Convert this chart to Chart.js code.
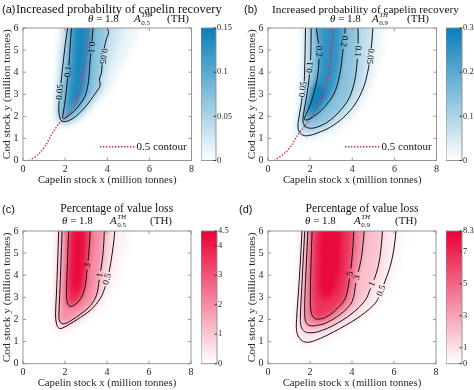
<!DOCTYPE html>
<html><head><meta charset="utf-8">
<script src="https://cdn.jsdelivr.net/npm/chart.js@4.4.1/dist/chart.umd.min.js"></script>
<style>
html,body{margin:0;padding:0;background:#fff;}
#wrap{position:relative;width:474px;height:390px;overflow:hidden;background:#fff;}
#wrap canvas{position:absolute;}
</style></head><body><div id="wrap"></div>
<script>
// ================= DATA =================
const xTickVals = [0, 2, 4, 6, 8];
const yTickVals = [0, 1, 2, 3, 4, 5, 6];

// ---- (a) increased probability of capelin recovery, A_0.5 ----
const maxA = 0.15;
const cbTicksA = [0, 0.05, 0.1, 0.15];
const aC005 = [[2.12,6.0],[2.0,5.2],[1.88,4.2],[1.8,3.5,'0.05'],[1.72,2.7],[1.7,2.25],[1.76,1.92],[1.88,1.77],[2.16,1.8],[2.48,1.98],[2.87,2.33],[3.19,2.71],[3.47,3.09],[3.66,3.39],[3.63,3.69],[3.72,3.95],[3.76,4.35,'0.05',1],[3.86,5.1],[3.96,5.5],[4.06,5.8],[4.0,6.0]];
const aC01 = [[2.3,6.0],[2.24,5.2],[2.18,4.3,'0.1'],[2.12,3.75],[2.05,3.1],[1.97,2.5],[1.9,2.1],[1.88,1.93],[1.97,1.9],[2.1,1.98],[2.4,2.22],[2.72,2.56],[2.95,2.93],[3.08,3.39],[3.14,3.91],[3.19,4.6],[3.22,4.85,'0.1',1],[3.27,5.4],[3.31,5.8],[3.33,6.0]];
const aGlow1 = [[1.7,6.5],[1.62,4.5],[1.52,3.0],[1.45,2.2],[1.52,1.7],[1.78,1.5],[2.2,1.55],[2.8,1.85],[3.5,2.5],[4.2,3.3],[4.7,4.2],[5.1,5.0],[5.45,5.8],[5.6,6.5]];
const aGlow2 = [[1.9,6.5],[1.75,4.5],[1.62,3.0],[1.58,2.3],[1.64,1.8],[1.85,1.65],[2.2,1.68],[2.7,1.95],[3.2,2.45],[3.7,3.1],[4.0,3.8],[4.3,4.6],[4.6,5.5],[4.8,6.5]];
const aCore = [[2.45,6.5],[2.42,5.0],[2.35,3.6],[2.25,2.8],[2.3,2.5],[2.55,2.7],[2.8,3.3],[2.95,4.2],[3.05,5.2],[3.1,6.5]];
const aFillShapes = [aCore, aC01, aC005, aGlow2, aGlow1];
const aFillLevels = [0.14, 0.115, 0.07, 0.03, 0.012];
const aHalf = [[0.31,0],[0.74,0.29],[1.06,0.67],[1.37,1.2],[1.69,1.65],[1.93,1.88],[2.24,2.22],[2.48,2.56],[2.69,3.16],[2.87,4.06],[3.0,4.82],[3.11,6.0]];

// ---- (b) increased probability of capelin recovery, A_0.9 ----
const maxB = 0.3;
const cbTicksB = [0, 0.1, 0.2, 0.3];
const bC005 = [[1.78,6.0],[1.76,4.9],[1.74,4.1],[1.72,3.6,'0.05'],[1.62,2.85],[1.55,2.41],[1.46,1.9],[1.42,1.55],[1.5,1.27],[1.72,1.13],[2.0,1.14],[2.33,1.24],[2.96,1.51],[3.59,1.96],[4.14,2.56],[4.54,3.32],[4.72,3.95],[4.8,4.35,'0.05',1],[4.9,5.1],[4.95,5.6],[4.98,6.0]];
const bC01 = [[2.05,6.0],[2.04,5.1],[2.02,4.55,'0.1'],[1.97,3.9],[1.9,3.32],[1.78,2.6],[1.68,2.05],[1.67,1.72],[1.8,1.52],[2.05,1.46],[2.35,1.52],[2.81,1.73],[3.36,2.19],[3.83,2.79],[4.1,3.54],[4.2,4.15],[4.24,4.6,'0.1',1],[4.28,5.3],[4.27,6.0]];
const bC02 = [[2.3,6.0],[2.35,5.6],[2.4,5.3,'0.2'],[2.42,4.6],[2.38,4.0],[2.25,3.32],[2.02,2.56],[1.8,2.08],[1.74,1.86],[1.9,1.85],[2.33,2.11],[2.81,2.56],[3.2,3.17],[3.44,4.07],[3.52,4.7],[3.57,5.05,'0.2',1],[3.65,5.75],[3.67,6.0]];
const bGlow1 = [[1.55,6.5],[1.5,4.5],[1.4,3.0],[1.28,2.0],[1.25,1.4],[1.38,1.0],[1.8,0.9],[2.5,1.02],[3.3,1.35],[4.1,1.95],[4.7,2.8],[5.1,3.8],[5.4,4.8],[5.55,5.8],[5.65,6.5]];
const bCore = [[2.52,6.5],[2.55,5.3],[2.52,4.4],[2.35,3.5],[2.1,2.7],[1.92,2.2],[2.05,2.1],[2.45,2.45],[2.85,3.0],[3.15,3.7],[3.3,4.6],[3.38,6.5]];
const bCoreLow = [[2.15,3.4],[2.0,2.8],[1.9,2.25],[2.1,2.2],[2.45,2.55],[2.7,3.0],[2.6,3.4],[2.3,3.5]];
const bFillShapes = [bCoreLow, bCore, bC02, bC01, bC005, bGlow1];
const bFillLevels = [0.29, 0.255, 0.22, 0.14, 0.075, 0.02];
const bHalf = [[0.3,0],[0.82,0.35],[1.14,0.72],[1.37,1.1],[1.61,1.4],[1.92,1.78],[2.24,2.23],[2.56,2.84],[2.79,3.59],[2.95,4.34],[3.03,5.25],[3.11,6.0]];

// ---- (c) percentage of value loss, A_0.5 ----
const maxC = 4.5;
const cbTicksC = [0, 1, 2, 3, 4, 4.5];
const cC05 = [[1.7,6.0],[1.65,4.6],[1.59,3.1],[1.55,2.2],[1.6,1.78],[1.72,1.6],[1.9,1.62],[2.2,1.78],[2.57,1.99],[3.21,2.42],[3.68,2.95],[3.92,3.5,'0.5'],[4.1,4.15],[4.25,5.0],[4.33,5.6],[4.37,6.0]];
const cC1 = [[1.86,6.0],[1.81,4.6],[1.75,3.1],[1.71,2.2],[1.75,1.92],[1.9,1.8],[2.2,1.9],[2.75,2.25],[3.2,2.62],[3.5,3.1],[3.63,3.8,'1'],[3.7,4.2],[3.8,4.9],[3.85,5.5],[3.87,6.0]];
const cC3 = [[2.17,6.0],[2.12,4.6],[2.07,3.25],[2.1,2.8],[2.22,2.6],[2.45,2.65],[2.75,2.95],[2.95,3.45],[3.05,4.25,'3'],[3.1,4.65],[3.16,5.35],[3.2,6.0]];
const cGlow1 = [[1.5,6.5],[1.45,4.5],[1.4,3.0],[1.38,2.0],[1.5,1.45],[1.75,1.35],[2.3,1.5],[3.0,1.95],[3.7,2.55],[4.3,3.35],[4.7,4.3],[5.0,5.3],[5.15,6.5]];
const cCore = [[2.35,6.5],[2.32,4.8],[2.3,3.6],[2.5,3.1],[2.75,3.5],[2.88,4.4],[2.95,6.5]];
const cFillShapes = [cCore, cC3, cC1, cC05, cGlow1];
const cFillLevels = [4.35, 3.7, 2.0, 0.75, 0.2];

// ---- (d) percentage of value loss, A_0.9 ----
const maxD = 8.3;
const cbTicksD = [0, 1, 3, 5, 7, 8.3];
const dC05 = [[1.62,6.0],[1.54,4.6],[1.44,3.1],[1.36,2.0],[1.36,1.5],[1.48,1.18],[1.7,1.0],[2.0,0.98],[2.5,1.15],[3.13,1.44],[4.24,2.05],[5.03,2.65],[5.27,3.0,'0.5'],[5.52,3.6],[5.79,4.3],[5.98,5.1],[6.1,6.0]];
const dC1 = [[1.75,6.0],[1.67,4.6],[1.59,3.1],[1.54,2.05],[1.58,1.68],[1.74,1.46],[2.0,1.4],[2.4,1.45],[3.13,1.74],[4.0,2.27],[4.63,2.87],[4.88,3.4,'1'],[5.05,3.8],[5.25,4.4],[5.38,5.2],[5.45,6.0]];
const dC3 = [[1.9,6.0],[1.83,4.6],[1.76,3.1],[1.75,2.2],[1.82,1.85],[2.0,1.72],[2.3,1.73],[2.73,1.83],[3.44,2.23],[4.0,2.8],[4.18,3.65,'3'],[4.3,4.15],[4.43,4.7],[4.52,5.35],[4.58,6.0]];
const dC5 = [[2.1,6.0],[2.05,4.6],[2.02,3.1],[2.05,2.35],[2.2,2.06],[2.45,2.02],[2.75,2.1],[3.21,2.42],[3.68,2.95],[3.88,3.85,'5'],[3.95,4.3],[4.02,5.0],[4.06,5.5],[4.08,6.0]];
const dGlow1 = [[1.42,6.5],[1.36,4.5],[1.27,3.0],[1.2,1.8],[1.26,1.2],[1.5,0.85],[2.0,0.78],[3.0,1.12],[4.2,1.78],[5.2,2.5],[5.85,3.4],[6.25,4.5],[6.45,5.5],[6.55,6.5]];
const dCore = [[2.45,6.5],[2.4,4.6],[2.45,3.2],[2.75,2.9],[3.2,3.3],[3.45,4.2],[3.55,6.5]];
const dFillShapes = [dCore, dC5, dC3, dC1, dC05, dGlow1];
const dFillLevels = [8.0, 6.6, 4.0, 2.0, 0.75, 0.3];

// ================= STYLE / LAYOUT =================
const SERIF = '"Liberation Serif","Times New Roman",serif';
const SANS = '"Liberation Sans",Arial,sans-serif';
const BLUE = [8,126,184], RED = [232,0,52];
const HALFCOL = '#e3264e';
const FRAME = '#8c8c8c';
const TXT = '#262626';

const mctx = document.createElement('canvas').getContext('2d');
function fitSize(text, family, target){ mctx.font = '20px ' + family; return 20 * target / mctx.measureText(text).width; }
const xTitle = 'Capelin stock x (million tonnes)';
const yTitle = 'Cod stock y (million tonnes)';
const xtSize = fitSize(xTitle, SERIF, 139);
const ytSize = fitSize(yTitle, SERIF, 130);

function shade(rgb, v, max){ const t = Math.max(0, Math.min(1, v / max)); return 'rgb(' + rgb.map(c => Math.round(255 + (c - 255) * t)).join(',') + ')'; }
function pts(arr){ return arr.map(p => ({x: p[0], y: p[1], lab: p[2] || null, flip: !!p[3]})); }
function poly(arr){
  const q = pts(arr); const f = arr[0], l = arr[arr.length - 1];
  if (f[1] >= 5.9 && l[1] >= 5.9){ q.unshift({x: f[0], y: 7.5}); q.push({x: l[0], y: 7.5}); }
  return q;
}

const panels = [
  {ox:0, oy:0, L:23, R:191.5, T:28, B:160.5, cbL:201, cbR:216, tag:'(a)', tagX:2, tagY:10,
   title:'Increased probability of capelin recovery', tC:118.8, tW:206, tY:10, sY:19.5, thX:88, aX:134, thhX:167, lvl:'0.5',
   max:maxA, cbTicks:cbTicksA, col:BLUE, shapes:aFillShapes, levels:aFillLevels, cont:[aC005, aC01], half:aHalf, yTX:7, xTY:180},
  {ox:237, oy:0, L:31, R:199.5, T:28, B:160.5, cbL:209, cbR:225, tag:'(b)', tagX:7, tagY:10,
   title:'Increased probability of capelin recovery', tC:128.5, tW:187, tY:10, sY:19.5, thX:93, aX:135, thhX:170, lvl:'0.9',
   max:maxB, cbTicks:cbTicksB, col:BLUE, shapes:bFillShapes, levels:bFillLevels, cont:[bC005, bC01, bC02], half:bHalf, yTX:15, xTY:180},
  {ox:0, oy:195, L:23, R:191, T:36, B:168.7, cbL:201, cbR:217, tag:'(c)', tagX:2, tagY:15,
   title:'Percentage of value loss', tC:116.7, tW:113, tY:14, sY:26.5, thX:62, aX:110, thhX:150, lvl:'0.5',
   max:maxC, cbTicks:cbTicksC, col:RED, shapes:cFillShapes, levels:cFillLevels, cont:[cC05, cC1, cC3], half:null, yTX:7, xTY:189},
  {ox:237, oy:195, L:31, R:199, T:36, B:168.7, cbL:209, cbR:225, tag:'(d)', tagX:2, tagY:15,
   title:'Percentage of value loss', tC:125, tW:113, tY:14, sY:26.5, thX:68, aX:117, thhX:158, lvl:'0.9',
   max:maxD, cbTicks:cbTicksD, col:RED, shapes:dFillShapes, levels:dFillLevels, cont:[dC05, dC1, dC3, dC5], half:null, yTX:15, xTY:188.5}
];

// ================= PLUGINS =================
const blurPlugin = {
  id: 'blurFill',
  beforeRender(chart){ chart.ctx.filter = 'blur(3px)'; },
  beforeDraw(chart){ chart.ctx.filter = 'none'; }
};
const framePlugin = {
  id: 'frame',
  afterDraw(chart){
    const {ctx, chartArea: a} = chart;
    ctx.save();
    ctx.strokeStyle = FRAME; ctx.lineWidth = 0.9;
    ctx.strokeRect(a.left, a.top, a.right - a.left, a.bottom - a.top);
    ctx.beginPath();
    chart.scales.x.ticks.forEach(t => { const px = chart.scales.x.getPixelForValue(t.value);
      ctx.moveTo(px, a.bottom); ctx.lineTo(px, a.bottom - 3); ctx.moveTo(px, a.top); ctx.lineTo(px, a.top + 3); });
    chart.scales.y.ticks.forEach(t => { const py = chart.scales.y.getPixelForValue(t.value);
      ctx.moveTo(a.left, py); ctx.lineTo(a.left + 3, py); ctx.moveTo(a.right, py); ctx.lineTo(a.right - 3, py); });
    ctx.stroke();
    ctx.restore();
  }
};
const labelPlugin = {
  id: 'clabel',
  afterDatasetsDraw(chart){
    const ctx = chart.ctx;
    ctx.save();
    ctx.font = '9px ' + SERIF; ctx.fillStyle = '#000'; ctx.textAlign = 'center'; ctx.textBaseline = 'middle';
    chart.data.datasets.forEach((ds, i) => {
      if (!ds.isContour) return;
      const meta = chart.getDatasetMeta(i);
      ds.data.forEach((d, j) => {
        if (!d.lab || !meta.data[j + 1]) return;
        const p0 = meta.data[j], p1 = meta.data[j + 1];
        let ang = Math.atan2(p1.y - p0.y, p1.x - p0.x);
        if (ang > Math.PI / 2) ang -= Math.PI;
        if (ang < -Math.PI / 2) ang += Math.PI;
        if (d.flip) ang += Math.PI;
        ctx.save(); ctx.translate((p0.x + p1.x) / 2, (p0.y + p1.y) / 2); ctx.rotate(ang);
        ctx.fillText(d.lab, 0, 0); ctx.restore();
      });
    });
    ctx.restore();
  }
};
function makeDeco(p){
  return {
    id: 'deco',
    afterDraw(chart){
      const ctx = chart.ctx; const a = chart.chartArea;
      ctx.save();
      ctx.fillStyle = '#111'; ctx.textBaseline = 'middle';
      ctx.textAlign = 'left'; ctx.font = '11px ' + SANS; ctx.fillText(p.tag, p.tagX, p.tagY);
      const ts = fitSize(p.title, SERIF, p.tW);
      ctx.textAlign = 'center'; ctx.font = ts.toFixed(2) + 'px ' + SERIF; ctx.fillText(p.title, p.tC, p.tY);
      ctx.textAlign = 'left';
      const y = p.sY;
      ctx.font = 'italic 11px ' + SERIF; ctx.fillText('θ', p.thX, y);
      const wt = ctx.measureText('θ').width;
      ctx.font = '11px ' + SERIF; ctx.fillText(' = 1.8', p.thX + wt, y);
      ctx.font = 'italic 11px ' + SERIF; ctx.fillText('A', p.aX, y);
      const wa = ctx.measureText('A').width;
      ctx.font = 'italic 7px ' + SERIF; ctx.fillText('TH', p.aX + wa + 0.5, y - 4);
      ctx.font = '7px ' + SERIF; ctx.fillText(p.lvl, p.aX + wa + 0.5, y + 3.5);
      ctx.font = '11px ' + SERIF; ctx.fillText('(TH)', p.thhX, y);
      if (p.half){
        const ly = 146.7;
        ctx.strokeStyle = HALFCOL; ctx.lineWidth = 1.4; ctx.setLineDash([1.4, 1.6]);
        ctx.beginPath(); ctx.moveTo(a.left + 77, ly); ctx.lineTo(a.left + 112, ly); ctx.stroke();
        ctx.setLineDash([]);
        ctx.fillStyle = '#111'; ctx.font = '11px ' + SERIF; ctx.fillText('0.5 contour', a.left + 113.5, ly);
      }
      ctx.restore();
    }
  };
}
const cbFrame = {
  id: 'cbframe',
  afterDraw(chart){
    const {ctx, chartArea: a} = chart;
    ctx.save(); ctx.strokeStyle = FRAME; ctx.lineWidth = 0.9;
    ctx.strokeRect(a.left, a.top, a.right - a.left, a.bottom - a.top);
    ctx.beginPath();
    chart.scales.y.ticks.forEach(t => { const py = chart.scales.y.getPixelForValue(t.value); ctx.moveTo(a.right, py); ctx.lineTo(a.right - 2.5, py); });
    ctx.strokeStyle = '#333'; ctx.stroke();
    ctx.restore();
  }
};

// ================= BUILD =================
const wrap = document.getElementById('wrap');
function addCanvas(x, y, w, h){ const c = document.createElement('canvas'); c.width = w; c.height = h; c.style.left = x + 'px'; c.style.top = y + 'px'; c.style.width = w + 'px'; c.style.height = h + 'px'; wrap.appendChild(c); return c; }

panels.forEach(p => {
  const datasets = [];
  p.shapes.forEach((s, i) => datasets.push({data: poly(s), showLine: true, fill: 'shape', backgroundColor: shade(p.col, p.levels[i], p.max),
    borderColor: 'rgba(0,0,0,0)', borderWidth: 0, pointRadius: 0, tension: 0.35}));
  p.cont.forEach(c => {
    const d = pts(c);
    datasets.push({data: d, isContour: true, showLine: true, fill: false, borderColor: '#111', borderWidth: 1, pointRadius: 0, tension: 0.35,
      segment: {borderColor: sc => (d[sc.p0DataIndex] && d[sc.p0DataIndex].lab) ? 'rgba(0,0,0,0)' : '#111'}});
  });
  if (p.half) datasets.push({data: pts(p.half), showLine: true, fill: false, borderColor: HALFCOL, borderWidth: 1.4, borderDash: [1.4, 1.6], pointRadius: 0, tension: 0.3});

  const cv = addCanvas(p.ox, p.oy, 237, 195);
  new Chart(cv, {
    type: 'scatter',
    data: {datasets},
    options: {
      responsive: false, animation: false, events: [],
      layout: {padding: {left: 0, right: 237 - p.R, top: p.T, bottom: 0}},
      elements: {line: {capBezierPoints: false}, point: {radius: 0}},
      plugins: {legend: {display: false}, tooltip: {enabled: false}, filler: {drawTime: 'beforeDraw', propagate: false}},
      scales: {
        x: {type: 'linear', position: 'bottom', min: 0, max: 8,
          afterBuildTicks: s => { s.ticks = xTickVals.map(v => ({value: v})); },
          afterFit: s => { s.height = 195 - p.B; },
          grid: {display: false, drawTicks: false}, border: {display: false},
          ticks: {padding: 3, color: TXT, font: {family: SERIF, size: 10}, maxRotation: 0},
          title: {display: true, text: xTitle, color: TXT, font: {family: SERIF, size: xtSize}, padding: {top: 0, bottom: Math.max(0, 195 - p.xTY - xtSize * 0.6)}}},
        y: {type: 'linear', position: 'left', min: 0, max: 6,
          afterBuildTicks: s => { s.ticks = yTickVals.map(v => ({value: v})); },
          afterFit: s => { s.width = p.L; },
          grid: {display: false, drawTicks: false}, border: {display: false},
          ticks: {padding: 4.5, color: TXT, font: {family: SERIF, size: 10}},
          title: {display: true, text: yTitle, color: TXT, font: {family: SERIF, size: ytSize}, padding: {top: Math.max(0, p.yTX - ytSize * 0.6), bottom: 0}}}
      }
    },
    plugins: [blurPlugin, framePlugin, labelPlugin, makeDeco(p)]
  });

  const cbW = 237 - p.cbL;
  const cc = addCanvas(p.ox + p.cbL, p.oy, cbW, 195);
  new Chart(cc, {
    type: 'bar',
    data: {labels: [''], datasets: [{data: [p.max], borderWidth: 0, barPercentage: 1, categoryPercentage: 1,
      backgroundColor: ctx => { const ca = ctx.chart.chartArea; if (!ca) return shade(p.col, 1, 1);
        const g = ctx.chart.ctx.createLinearGradient(0, ca.bottom, 0, ca.top);
        g.addColorStop(0, '#ffffff'); g.addColorStop(1, shade(p.col, 1, 1)); return g; }}]},
    options: {
      responsive: false, animation: false, events: [],
      layout: {padding: {left: 0, right: 0, top: p.T, bottom: 195 - p.B}},
      plugins: {legend: {display: false}, tooltip: {enabled: false}},
      scales: {
        x: {display: false},
        y: {position: 'right', min: 0, max: p.max,
          afterBuildTicks: s => { s.ticks = p.cbTicks.map(v => ({value: v})); },
          afterFit: s => { s.width = cbW - (p.cbR - p.cbL); },
          grid: {display: false, drawTicks: false}, border: {display: false},
          ticks: {padding: 1, color: TXT, font: {family: SERIF, size: 8.5}, callback: v => String(v)}}
      }
    },
    plugins: [cbFrame]
  });
});
</script></body></html>
